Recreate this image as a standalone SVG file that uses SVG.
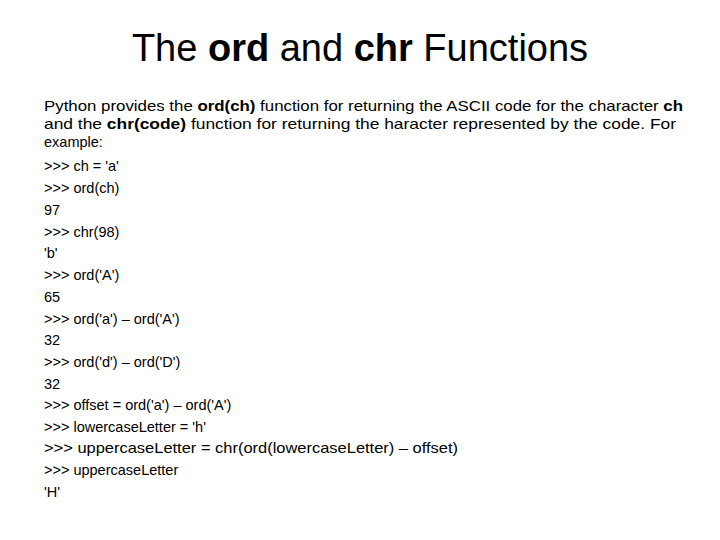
<svg xmlns="http://www.w3.org/2000/svg" width="720" height="540" viewBox="0 0 720 540">
<style>
.t{font-family:"Liberation Sans",Arial,sans-serif;font-size:38px;fill:#000}
.b{font-family:"Liberation Sans",Arial,sans-serif;font-size:14.5px;fill:#000}
.bo{font-weight:bold}
</style>
<rect width="720" height="540" fill="#fff"/>
<g id="title"><text class="t" x="360" y="61" text-anchor="middle">The <tspan class="bo">ord</tspan> and <tspan class="bo">chr</tspan> Functions</text></g>
<g id="body">
<text class="b" x="44" y="111" textLength="639" lengthAdjust="spacingAndGlyphs">Python provides the <tspan class="bo">ord(ch)</tspan> function for returning the ASCII code for the character <tspan class="bo">ch</tspan></text>
<text class="b" x="44" y="129" textLength="632" lengthAdjust="spacingAndGlyphs">and the <tspan class="bo">chr(code)</tspan> function for returning the haracter represented by the code. For</text>
<text class="b" x="44" y="147">example:</text>
<text class="b" x="44" y="171">&gt;&gt;&gt; ch = 'a'</text>
<text class="b" x="44" y="193">&gt;&gt;&gt; ord(ch)</text>
<text class="b" x="44" y="215">97</text>
<text class="b" x="44" y="237">&gt;&gt;&gt; chr(98)</text>
<text class="b" x="44" y="258">'b'</text>
<text class="b" x="44" y="280">&gt;&gt;&gt; ord('A')</text>
<text class="b" x="44" y="302">65</text>
<text class="b" x="44" y="324">&gt;&gt;&gt; ord('a') – ord('A')</text>
<text class="b" x="44" y="345">32</text>
<text class="b" x="44" y="367">&gt;&gt;&gt; ord('d') – ord('D')</text>
<text class="b" x="44" y="389">32</text>
<text class="b" x="44" y="410">&gt;&gt;&gt; offset = ord('a') – ord('A')</text>
<text class="b" x="44" y="432">&gt;&gt;&gt; lowercaseLetter = 'h'</text>
<text class="b" x="44" y="453" textLength="414" lengthAdjust="spacingAndGlyphs">&gt;&gt;&gt; uppercaseLetter = chr(ord(lowercaseLetter) – offset)</text>
<text class="b" x="44" y="475">&gt;&gt;&gt; uppercaseLetter</text>
<text class="b" x="44" y="497">'H'</text>
</g>
</svg>
